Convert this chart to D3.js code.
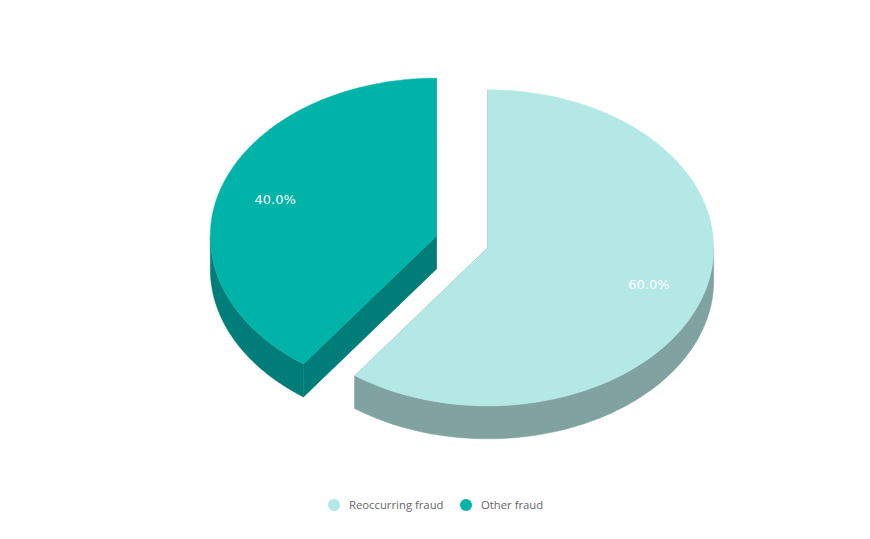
<!DOCTYPE html>
<html><head><meta charset="utf-8">
<script src="https://cdn.jsdelivr.net/npm/d3@7"></script>
<style>html,body{margin:0;padding:0;background:#fff;}</style>
</head><body>
<svg id="chart" width="870" height="539"></svg>
<script>
const categories = ["Reoccurring fraud", "Other fraud"];
const values = [60, 40];
const topColors = ["#b3e8e5", "#00b3a8"];
const sideColors = ["#80a3a1", "#007d78"];

const W = 870, H = 539;
const cx = 462, cy = 242, rx = 226, ry = 158, depth = 33, explode = 27;

const svg = d3.select("#chart");
const pie = d3.pie().sort(null).value(d => d)(values);
const total = d3.sum(values);

const pt = (c, a, r = 1) => [c[0] + rx * r * Math.sin(a), c[1] - ry * r * Math.cos(a)];

const slices = pie.map((p, i) => {
  const mid = (p.startAngle + p.endAngle) / 2;
  const c = [cx + explode * Math.sin(mid), cy - explode * (ry / rx) * Math.cos(mid)];
  return { p, i, mid, c };
});

const gSide = svg.append("g"), gTop = svg.append("g"), gLab = svg.append("g");
const line = d3.line();
const N = 120;

slices.forEach(s => {
  const { p, c, i } = s;
  [p.startAngle, p.endAngle].forEach(a => {
    const e = pt(c, a);
    gSide.append("path")
      .attr("d", line([c, e, [e[0], e[1] + depth], [c[0], c[1] + depth]]) + "Z")
      .attr("fill", sideColors[i]).attr("stroke", sideColors[i]).attr("stroke-width", 0.5);
  });
  const a0 = Math.max(p.startAngle, Math.PI / 2), a1 = Math.min(p.endAngle, 3 * Math.PI / 2);
  if (a1 > a0) {
    const topPts = d3.range(N + 1).map(k => pt(c, a0 + (a1 - a0) * k / N));
    const botPts = topPts.map(q => [q[0], q[1] + depth]).reverse();
    gSide.append("path").attr("d", line(topPts.concat(botPts)) + "Z")
      .attr("fill", sideColors[i]).attr("stroke", sideColors[i]).attr("stroke-width", 0.5);
  }
});

slices.forEach(s => {
  const { p, c, i } = s;
  const arcPts = d3.range(N + 1).map(k => pt(c, p.startAngle + (p.endAngle - p.startAngle) * k / N));
  gTop.append("path").attr("d", line([c].concat(arcPts)) + "Z")
    .attr("fill", topColors[i]).attr("stroke", topColors[i]).attr("stroke-width", 0.5);
  const lp = pt(c, s.mid, 0.75);
  gLab.append("text").attr("x", lp[0]).attr("y", lp[1])
    .attr("text-anchor", "middle").attr("dominant-baseline", "central")
    .style("font-family", "'DejaVu Sans', Verdana, sans-serif").style("font-size", "13px")
    .attr("fill", "#ffffff")
    .text((values[i] / total * 100).toFixed(1) + "%");
});

const legend = svg.append("g");
const lx = [334, 466];
categories.forEach((name, i) => {
  legend.append("circle").attr("cx", lx[i]).attr("cy", 505).attr("r", 6).attr("fill", topColors[i]);
  legend.append("text").attr("x", lx[i] + 15).attr("y", 504.5)
    .attr("dominant-baseline", "central")
    .style("font-family", "'Open Sans', sans-serif").style("font-size", "11.3px")
    .attr("fill", "#666").text(name);
});
</script>
</body></html>
